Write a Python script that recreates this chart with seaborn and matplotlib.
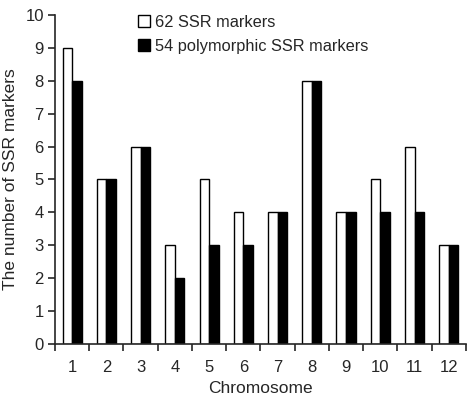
import pandas as pd
import matplotlib
matplotlib.use("Agg")
import matplotlib.pyplot as plt
import seaborn as sns
from matplotlib.ticker import MultipleLocator, FixedLocator

# data
chromosomes = [str(i) for i in range(1, 13)]
total_markers = [9, 5, 6, 3, 5, 4, 4, 8, 4, 5, 6, 3]
poly_markers = [8, 5, 6, 2, 3, 3, 4, 8, 4, 4, 4, 3]
series_names = ["62 SSR markers", "54 polymorphic SSR markers"]

df = pd.DataFrame({
    "Chromosome": chromosomes * 2,
    "count": total_markers + poly_markers,
    "series": [series_names[0]] * 12 + [series_names[1]] * 12,
})

sns.set_style("ticks")
plt.rcParams["font.family"] = ["Liberation Sans", "DejaVu Sans"]

fig = plt.figure(figsize=(4.74, 3.97), dpi=100)
ax = fig.add_axes([0.116, 0.134, 0.867, 0.828])

sns.barplot(data=df, x="Chromosome", y="count", hue="series",
            palette=["white", "black"], edgecolor="black", linewidth=1.0,
            width=0.56, ax=ax)

ax.set_xlim(-0.5, 11.5)
ax.set_ylim(0, 10)
ax.yaxis.set_major_locator(MultipleLocator(1))
ax.tick_params(axis="y", direction="out", length=5, width=1.2, labelsize=12, pad=3)
ax.tick_params(axis="x", which="major", length=0, labelsize=12, pad=12)
ax.xaxis.set_minor_locator(FixedLocator([i - 0.5 for i in range(13)]))
ax.tick_params(axis="x", which="minor", direction="out", length=5, width=1.2)

sns.despine(ax=ax)
for s in ["left", "bottom"]:
    ax.spines[s].set_linewidth(1.2)

ax.set_xlabel("Chromosome", fontsize=12.5, labelpad=4)
ax.set_ylabel("The number of SSR markers", fontsize=12.5, labelpad=5)

ax.legend(loc="upper left", bbox_to_anchor=(0.185, 1.02), frameon=False,
          fontsize=11.8, handlelength=0.75, handleheight=0.75, handletextpad=0.3,
          labelspacing=0.55, borderaxespad=0)

fig.savefig("out.png", dpi=100)
